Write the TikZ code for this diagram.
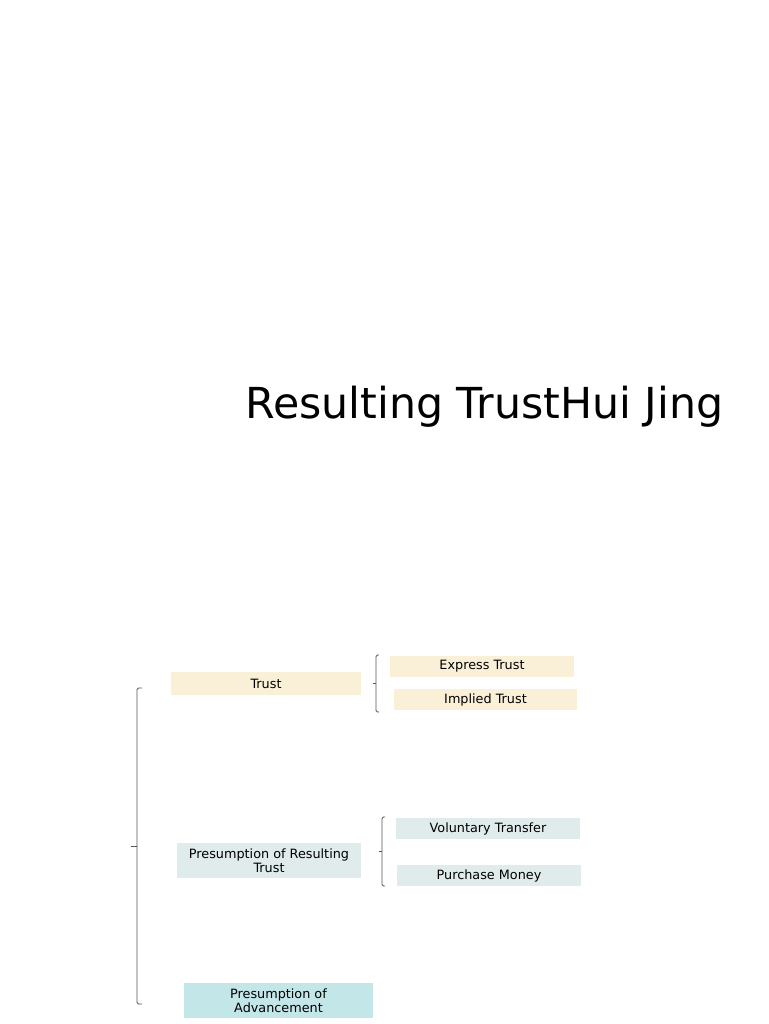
\documentclass[tikz,border=0pt]{standalone}
\usepackage{fontspec}
\setmainfont{DejaVu Sans}
\usetikzlibrary{positioning}
\definecolor{trustfill}{HTML}{FAF0D7}
\definecolor{presfill}{HTML}{E0EBEB}
\definecolor{advfill}{HTML}{C3E6E8}
\definecolor{bracegray}{HTML}{555555}
\tikzset{
    box/.style={inner sep=0pt, align=center, font=\fontsize{12.8}{14.2}\selectfont},
    brace/.style={draw=bracegray, line width=0.9pt, rounded corners=1.5pt}
}
\begin{document}
\begin{tikzpicture}[x=1pt,y=-1pt]
        \useasboundingbox[fill=white] (0,0) rectangle (768,1024);
        %\node[draw] (TITLE_OLD) at (380,400) {Resulting Trust};
        \node[anchor=base west, inner sep=0pt, font=\fontsize{42.7}{50}\selectfont] (TITLE) at (245,418) {Resulting TrustHui Jing};
        % first level
        \node[box, fill=trustfill, minimum width=190pt, minimum height=23pt] (TRUST) at (266,683.5) {Trust};
        \node[box, fill=presfill, minimum width=184pt, minimum height=35pt] (PRES_RT) at (269,860.5) {Presumption of Resulting\\Trust};
        \node[box, fill=advfill, minimum width=189pt, minimum height=35pt] (PRES_ADV) at (278.5,1000.5) {Presumption of\\Advancement};
        % second level
        \node[box, fill=trustfill, minimum width=184pt, minimum height=21pt] (EXPRESS) at (482,666.5) {Express Trust};
        \node[box, fill=trustfill, minimum width=183pt, minimum height=21pt] (IMPLIED) at (485.5,699.5) {Implied Trust};
        \node[box, fill=presfill, minimum width=184pt, minimum height=21pt] (VOLUNTARY) at (488,828.5) {Voluntary Transfer};
        \node[box, fill=presfill, minimum width=184pt, minimum height=21pt] (PURCHASE) at (489,875.5) {Purchase Money};
        % braces
        \coordinate (BR_ROOT) at (137,846);
        \coordinate (BR_TRUST) at (376,683.5);
        \coordinate (BR_PRES) at (382,851);
        \draw[brace] ([xshift=5pt]BR_ROOT |- 0,688) -- (BR_ROOT |- 0,688) -- (BR_ROOT |- 0,1004) -- ([xshift=5pt]BR_ROOT |- 0,1004);
        \draw[bracegray, line width=0.9pt] (BR_ROOT) -- ++(-6,0);
        \draw[brace] ([xshift=3pt]BR_TRUST |- 0,655) -- (BR_TRUST |- 0,655) -- (BR_TRUST |- 0,712) -- ([xshift=3pt]BR_TRUST |- 0,712);
        \draw[bracegray, line width=0.9pt] (BR_TRUST) -- ++(-3,0);
        \draw[brace] ([xshift=3pt]BR_PRES |- 0,817) -- (BR_PRES |- 0,817) -- (BR_PRES |- 0,886) -- ([xshift=3pt]BR_PRES |- 0,886);
        \draw[bracegray, line width=0.9pt] (BR_PRES) -- ++(-3,0);
\end{tikzpicture}
\end{document}
